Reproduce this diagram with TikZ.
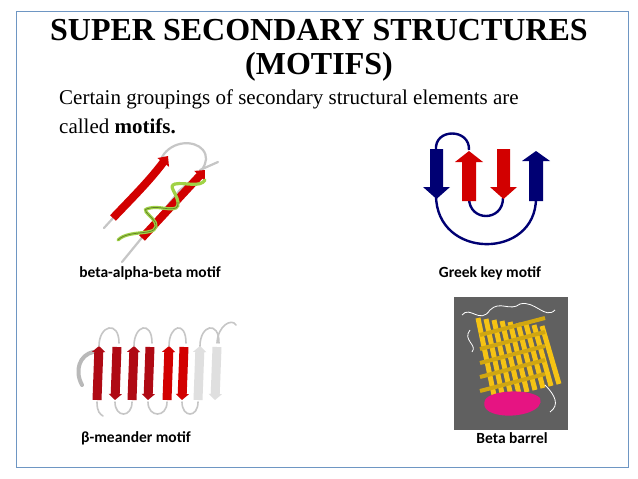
\documentclass[tikz,border=0pt]{standalone}
\usepackage{fontspec}
\setmainfont{Liberation Serif}
\newfontfamily\lblfont{Carlito}
\usetikzlibrary{arrows.meta}
\definecolor{navy}{RGB}{0,0,115}
\definecolor{kred}{RGB}{210,0,0}
\definecolor{dred}{RGB}{175,10,20}
\definecolor{frame}{RGB}{110,150,195}
\definecolor{leaf}{RGB}{160,210,70}
\definecolor{gold}{RGB}{245,195,20}
\definecolor{pinkk}{RGB}{230,20,130}
\begin{document}
\begin{tikzpicture}[x=1pt,y=-1pt,
  lbl/.style={font=\lblfont\bfseries\fontsize{15.5}{17}\selectfont},
  loop/.style={navy,line width=2.4pt},
  grey/.style={gray!45,line width=2.2pt,line cap=round},
  strand/.style={line width=8pt,-{Triangle[width=14pt,length=8pt]}}]
\useasboundingbox (0,0) rectangle (638,479);
\fill[white] (0,0) rectangle (638,479);
\draw[frame,line width=1pt] (16,11) rectangle (628,467);
% titles
\node[font=\bfseries\fontsize{32}{36}\selectfont] (t1) at (319,30) {SUPER SECONDARY STRUCTURES};
\node[font=\bfseries\fontsize{32}{36}\selectfont] (t2) at (319,67) {(MOTIFS)};
\node[anchor=west,inner sep=0pt,font=\fontsize{21}{25}\selectfont] (b1) at (59,99) {Certain groupings of secondary structural elements are};
\node[anchor=west,inner sep=0pt,font=\fontsize{21}{25}\selectfont] (b2) at (59,126) {called \textbf{motifs.}};
% labels
\node[lbl] (l1) at (150,273) {beta-alpha-beta motif};
\node[lbl] (l2) at (490,273) {Greek key motif};
\node[lbl,anchor=west,inner sep=0pt] (l3) at (81,438) {β-meander motif};
\node[lbl] (l4) at (512,438) {Beta barrel};
% Greek key
\draw[loop] (436,150) .. controls (434,128) and (470,128) .. (469,150);
\draw[loop] (469,198) .. controls (469,222) and (503,222) .. (503,198);
\draw[loop] (436,195) .. controls (436,260) and (536,260) .. (536,198);
\fill[navy] (430,149) -- (443,149) -- (443,187) -- (450,187) -- (436.5,199) -- (423,187) -- (430,187) -- cycle;
\fill[kred] (462,201) -- (476,201) -- (476,162) -- (483,162) -- (469,151) -- (455,162) -- (462,162) -- cycle;
\fill[kred] (497,149) -- (510,149) -- (510,187) -- (517,187) -- (503.5,199) -- (490,187) -- (497,187) -- cycle;
\fill[navy] (529,201) -- (543,201) -- (543,161) -- (550,161) -- (536,151) -- (522,161) -- (529,161) -- cycle;
% beta-alpha-beta
\draw[grey] (104,228) -- (114,217);
\draw[grey] (162,157) .. controls (172,140) and (195,140) .. (203,150) .. controls (212,162) and (200,175) .. (180,190) -- (140,240);
\draw[grey] (200,170) -- (218,162);
\draw[grey] (140,240) -- (122,262);
\draw[kred,strand] (113,218) .. controls (135,195) and (150,180) .. (168,156);
\draw[kred,strand] (142,238) -- (205,170);
\draw[leaf,line width=3.2pt,line cap=round] (118,240) .. controls (130,228) and (162,238) .. (155,222)
  .. controls (148,212) and (140,210) .. (150,208) .. controls (160,205) and (180,215) .. (178,202)
  .. controls (176,192) and (168,186) .. (175,184) .. controls (185,182) and (200,188) .. (205,180);
\draw[leaf!60!black,line width=0.7pt] (118,240) .. controls (130,228) and (162,238) .. (155,222)
  .. controls (148,212) and (140,210) .. (150,208) .. controls (160,205) and (180,215) .. (178,202);
% beta meander
\draw[gray!55,line width=4pt,line cap=round] (82,385) .. controls (74,370) and (80,355) .. (93,352);
\foreach \x/\c/\d in {97/dred/0,115/dred/1,132/dred/0,148/dred/1,167/kred/0,182/kred/1,198/gray!25/0,215/gray!25/1}{
  \ifnum\d=1
    \draw[\c,line width=9pt,-{Triangle[width=13pt,length=6pt]}] (\x+2,347) -- (\x,400);
  \else
    \draw[\c,line width=9pt,-{Triangle[width=13pt,length=6pt]}] (\x,400) -- (\x+2,346);
  \fi
}
\foreach \a/\b in {99/117,134/150,169/184,200/217}{
  \draw[grey,line width=1.6pt] (\a,346) .. controls (\a,325) and (\b+2,320) .. (\b+2,343);
}
\foreach \a/\b in {115/132,148/167,182/198}{
  \draw[grey,line width=1.6pt] (\a,402) .. controls (\a,418) and (\b,418) .. (\b,402);
}
\draw[grey,line width=1.6pt] (217,343) .. controls (218,325) and (232,318) .. (236,325);
\draw[grey,line width=1.6pt] (97,402) .. controls (97,412) and (100,414) .. (103,416);
% beta barrel
\fill[gray!75!black] (454,297) rectangle (568,430);
\begin{scope}
\clip (454,297) rectangle (568,430);
\foreach \i in {0,...,8}{
  \draw[gold,line width=5pt] (478+\i*8,318+\i*1) -- (495+\i*8,400-\i*2);
}
\foreach \i in {0,...,4}{
  \draw[gold!85!black,line width=4pt] (480,335+\i*14) -- (545,318+\i*14);
}
\fill[pinkk] (485,400) .. controls (490,390) and (530,388) .. (540,398) .. controls (545,410) and (520,418) .. (500,415) .. controls (488,413) and (482,408) .. (485,400) -- cycle;
\draw[white,line width=0.8pt] (462,315) .. controls (470,305) and (480,325) .. (490,310) .. controls (500,300) and (510,312) .. (520,304) .. controls (535,300) and (545,320) .. (555,310);
\draw[white,line width=0.8pt] (545,385) .. controls (555,395) and (560,405) .. (550,412);
\draw[white,line width=0.8pt] (470,330) .. controls (462,340) and (478,345) .. (472,352);
\end{scope}
\end{tikzpicture}
\end{document}
